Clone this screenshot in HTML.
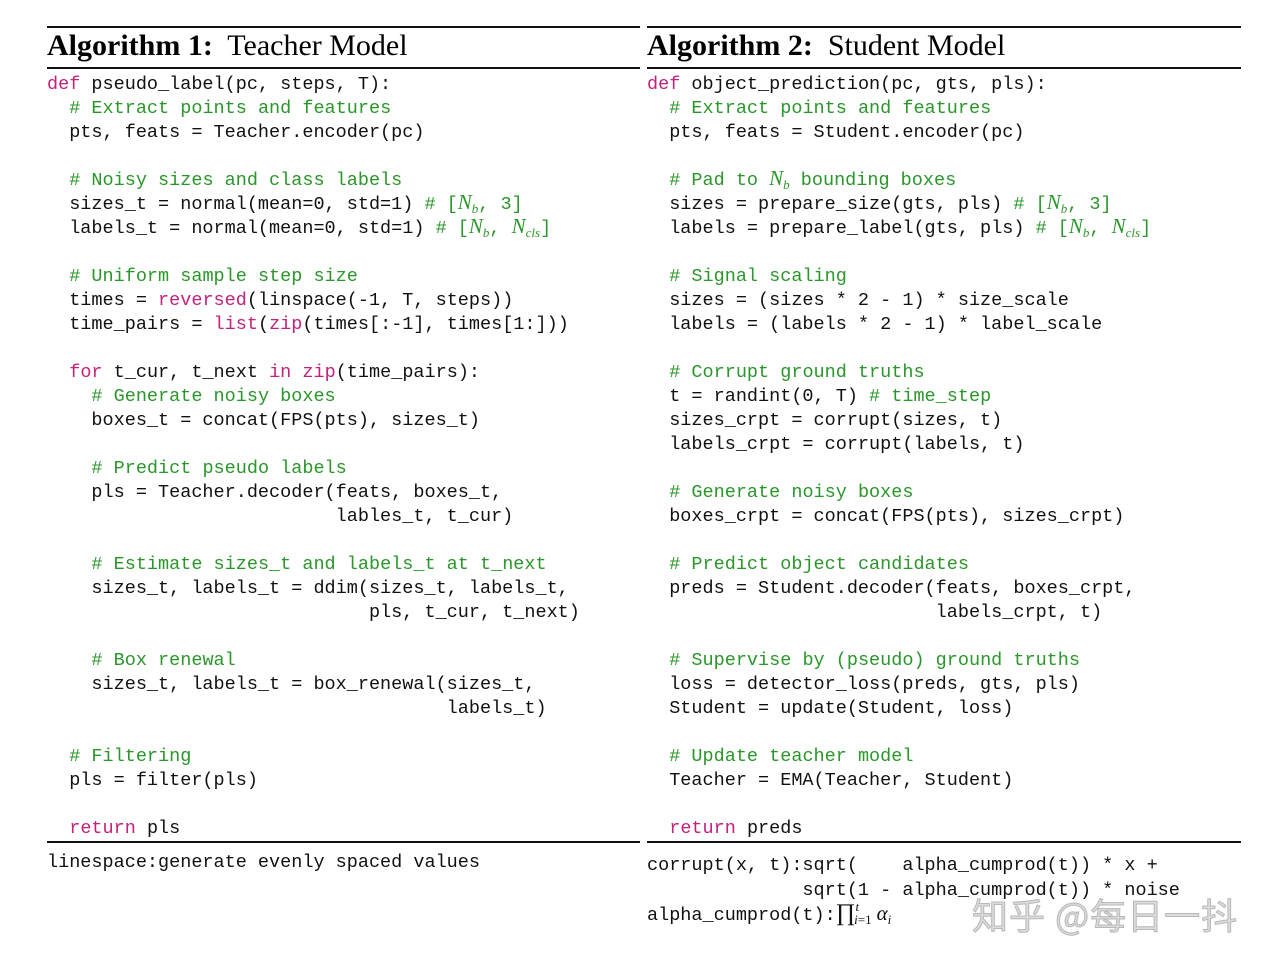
<!DOCTYPE html>
<html><head><meta charset="utf-8"><style>
body{margin:0;width:1282px;height:961px;background:#fff;position:relative;overflow:hidden}
.rule{position:absolute;background:#111}
.title{position:absolute;font-family:"Liberation Serif",serif;font-size:30px;color:#000;line-height:36px;white-space:nowrap}
.title b{font-weight:bold}
pre{position:absolute;margin:0;font-family:"Liberation Mono",monospace;font-size:18.5px;line-height:24px;color:#111}
pre span{line-height:0}
.k{color:#c2227a}.c{color:#2a972a}
.m{font-family:"Liberation Serif",serif;font-style:italic;font-size:21px;line-height:0}
.s{font-size:13px;position:relative;top:4px;line-height:0}
.u{font-size:13px;position:relative;top:-9px;line-height:0}
.wm{position:absolute;left:972px;top:888px;font-family:"Noto Sans CJK SC",sans-serif;font-size:36px;color:#dcdcdc;white-space:nowrap;-webkit-text-stroke:1px #b8b8b8;letter-spacing:1px}
</style></head><body>
<div class="rule" style="left:47px;top:26px;width:593px;height:2px"></div>
<div class="rule" style="left:647px;top:26px;width:594px;height:2px"></div>
<div class="title" style="left:47px;top:28px"><b>Algorithm 1:</b>&nbsp; Teacher Model</div>
<div class="title" style="left:647px;top:28px"><b>Algorithm 2:</b>&nbsp; Student Model</div>
<div class="rule" style="left:47px;top:67px;width:593px;height:2px"></div>
<div class="rule" style="left:647px;top:67px;width:594px;height:2px"></div>
<pre style="left:47px;top:73px"><span class="k">def</span> pseudo_label(pc, steps, T):
  <span class="c"># Extract points and features</span>
  pts, feats = Teacher.encoder(pc)

  <span class="c"># Noisy sizes and class labels</span>
  sizes_t = normal(mean=0, std=1) <span class="c"># [<span class="m">N<span class="s">b</span></span>, 3]</span>
  labels_t = normal(mean=0, std=1) <span class="c"># [<span class="m">N<span class="s">b</span></span>, <span class="m">N<span class="s">cls</span></span>]</span>

  <span class="c"># Uniform sample step size</span>
  times = <span class="k">reversed</span>(linspace(-1, T, steps))
  time_pairs = <span class="k">list</span>(<span class="k">zip</span>(times[:-1], times[1:]))

  <span class="k">for</span> t_cur, t_next <span class="k">in</span> <span class="k">zip</span>(time_pairs):
    <span class="c"># Generate noisy boxes</span>
    boxes_t = concat(FPS(pts), sizes_t)

    <span class="c"># Predict pseudo labels</span>
    pls = Teacher.decoder(feats, boxes_t,
                          lables_t, t_cur)

    <span class="c"># Estimate sizes_t and labels_t at t_next</span>
    sizes_t, labels_t = ddim(sizes_t, labels_t,
                             pls, t_cur, t_next)

    <span class="c"># Box renewal</span>
    sizes_t, labels_t = box_renewal(sizes_t,
                                    labels_t)

  <span class="c"># Filtering</span>
  pls = filter(pls)

  <span class="k">return</span> pls</pre>
<pre style="left:647px;top:73px"><span class="k">def</span> object_prediction(pc, gts, pls):
  <span class="c"># Extract points and features</span>
  pts, feats = Student.encoder(pc)

  <span class="c"># Pad to <span class="m">N<span class="s">b</span></span> bounding boxes</span>
  sizes = prepare_size(gts, pls) <span class="c"># [<span class="m">N<span class="s">b</span></span>, 3]</span>
  labels = prepare_label(gts, pls) <span class="c"># [<span class="m">N<span class="s">b</span></span>, <span class="m">N<span class="s">cls</span></span>]</span>

  <span class="c"># Signal scaling</span>
  sizes = (sizes * 2 - 1) * size_scale
  labels = (labels * 2 - 1) * label_scale

  <span class="c"># Corrupt ground truths</span>
  t = randint(0, T) <span class="c"># time_step</span>
  sizes_crpt = corrupt(sizes, t)
  labels_crpt = corrupt(labels, t)

  <span class="c"># Generate noisy boxes</span>
  boxes_crpt = concat(FPS(pts), sizes_crpt)

  <span class="c"># Predict object candidates</span>
  preds = Student.decoder(feats, boxes_crpt,
                          labels_crpt, t)

  <span class="c"># Supervise by (pseudo) ground truths</span>
  loss = detector_loss(preds, gts, pls)
  Student = update(Student, loss)

  <span class="c"># Update teacher model</span>
  Teacher = EMA(Teacher, Student)

  <span class="k">return</span> preds</pre>
<div class="rule" style="left:47px;top:841px;width:593px;height:2px"></div>
<div class="rule" style="left:647px;top:841px;width:594px;height:2px"></div>
<pre style="left:47px;top:851px">linespace:generate evenly spaced values</pre>
<pre style="left:647px;top:853px;line-height:25px">corrupt(x, t):sqrt(    alpha_cumprod(t)) * x +
              sqrt(1 - alpha_cumprod(t)) * noise
alpha_cumprod(t):<span style="font-family:'Liberation Serif',serif;font-size:24px;line-height:0">&prod;<span class="u" style="font-style:italic">t</span><span class="s" style="position:relative;left:-5px"><i>i</i>=1</span></span><span class="m">&alpha;<span class="s">i</span></span></pre>
<div class="wm">知乎 @每日一抖</div>
</body></html>
